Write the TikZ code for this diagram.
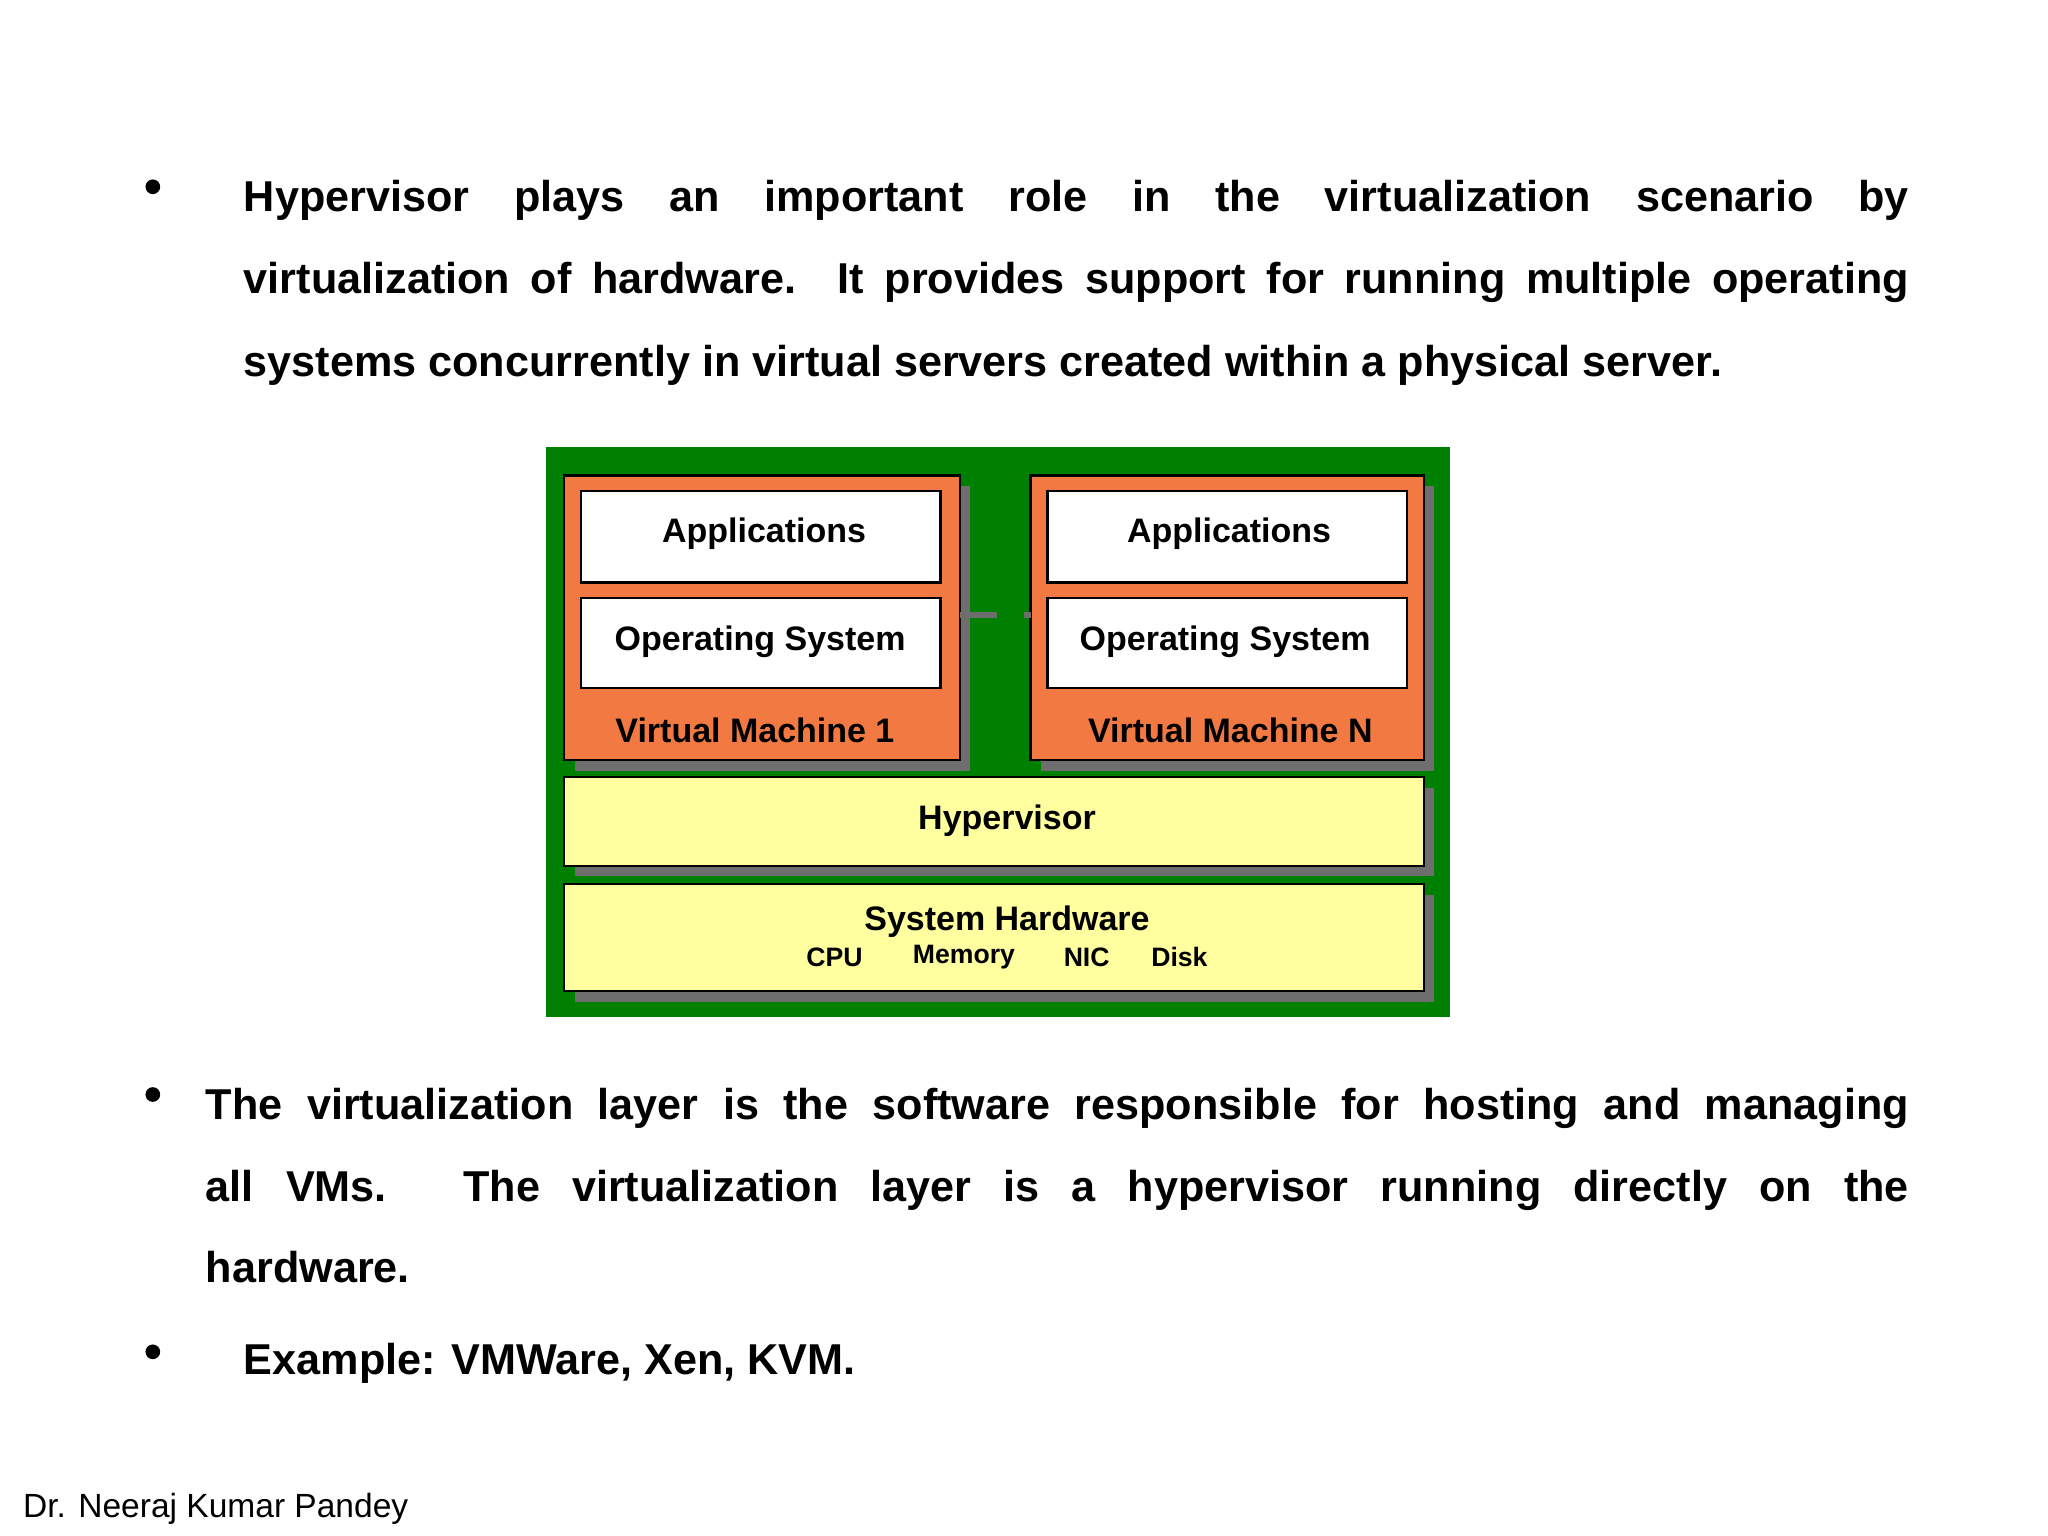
\documentclass[tikz,border=0pt]{standalone}
\usepackage{fontspec}
\setmainfont{Liberation Sans}
\definecolor{bggreen}{RGB}{0,128,0}
\definecolor{vmorange}{RGB}{242,122,66}
\definecolor{hwyellow}{RGB}{255,255,160}
\definecolor{shad}{RGB}{110,110,110}
\begin{document}
\begin{tikzpicture}[x=0.01cm,y=-0.01cm,
  body/.style={anchor=base west,inner sep=0pt,font=\fontsize{9.4pt}{11pt}\selectfont\bfseries},
  bul/.style={fill=black,circle,inner sep=0pt,minimum size=3.2pt},
  lbl/.style={font=\fontsize{7.4pt}{9pt}\selectfont\bfseries,inner sep=0pt},
  sm/.style={font=\fontsize{5.8pt}{7pt}\selectfont\bfseries,inner sep=0pt},
  box/.style={draw=black,line width=0.5pt}]
\useasboundingbox (0,0) rectangle (1568,1176);
\fill[white] (0,0) rectangle (1568,1176);
% text
\node[bul] (b1) at (117,143) {};
\node[body] (l1) at (186,162) {\makebox[12.74cm][s]{Hypervisor plays an important role in the virtualization scenario by}};
\node[body] (l2) at (186,225) {\makebox[12.74cm][s]{virtualization of hardware. It provides support for running multiple operating}};
\node[body] (l3) at (186,288) {systems concurrently in virtual servers created within a physical server.};
\node[bul] (b2) at (117,838) {};
\node[body] (m1) at (157,857) {\makebox[13.03cm][s]{The virtualization layer is the software responsible for hosting and managing}};
\node[body] (m2) at (157,920) {\makebox[13.03cm][s]{all VMs. The virtualization layer is a hypervisor running directly on the}};
\node[body] (m3) at (157,982) {hardware.};
\node[bul] (b3) at (117,1035) {};
\node[body] (e1) at (186,1052) {Example: VMWare, Xen, KVM.};
\node[anchor=base west,inner sep=0pt,font=\fontsize{7.3pt}{9pt}\selectfont] (ft) at (17,1162) {Dr. Neeraj Kumar Pandey};
% diagram
\fill[bggreen] (418,342) rectangle (1110,779);
\fill[shad] (440,372) rectangle (743,590);
\fill[shad] (797,372) rectangle (1098,590);
\draw[box,fill=vmorange] (432,364) rectangle (735,582);
\draw[box,fill=vmorange] (789,364) rectangle (1090,582);
\draw[box,fill=white] (445,376) rectangle (720,446);
\draw[box,fill=white] (445,458) rectangle (720,527);
\draw[box,fill=white] (802,376) rectangle (1077,446);
\draw[box,fill=white] (802,458) rectangle (1077,527);
\node[lbl] (a1) at (585,409) {Applications};
\node[lbl] (o1) at (582,491) {Operating System};
\node[lbl] (v1) at (578,559) {Virtual Machine 1};
\node[lbl] (a2) at (941,409) {Applications};
\node[lbl] (o2) at (938,491) {Operating System};
\node[lbl] (v2) at (942,559) {Virtual Machine N};
\coordinate (d1) at (735,471); \coordinate (d2) at (789,471);
\draw[shad,line width=1.2pt,dash pattern=on 8pt off 6pt] (d1) -- (d2);
\fill[shad] (440,603) rectangle (1098,671);
\draw[box,fill=hwyellow] (432,595) rectangle (1090,663);
\node[lbl] (hv) at (771,628) {Hypervisor};
\fill[shad] (440,685) rectangle (1098,767);
\draw[box,fill=hwyellow] (432,677) rectangle (1090,759);
\node[lbl] (sh) at (771,706) {System Hardware};
\node[sm] (c1) at (639,733) {CPU};
\node[sm] (c2) at (738,733) {Memory};
\node[sm] (c3) at (832,733) {NIC};
\node[sm] (c4) at (903,733) {Disk};
\end{tikzpicture}
\end{document}
